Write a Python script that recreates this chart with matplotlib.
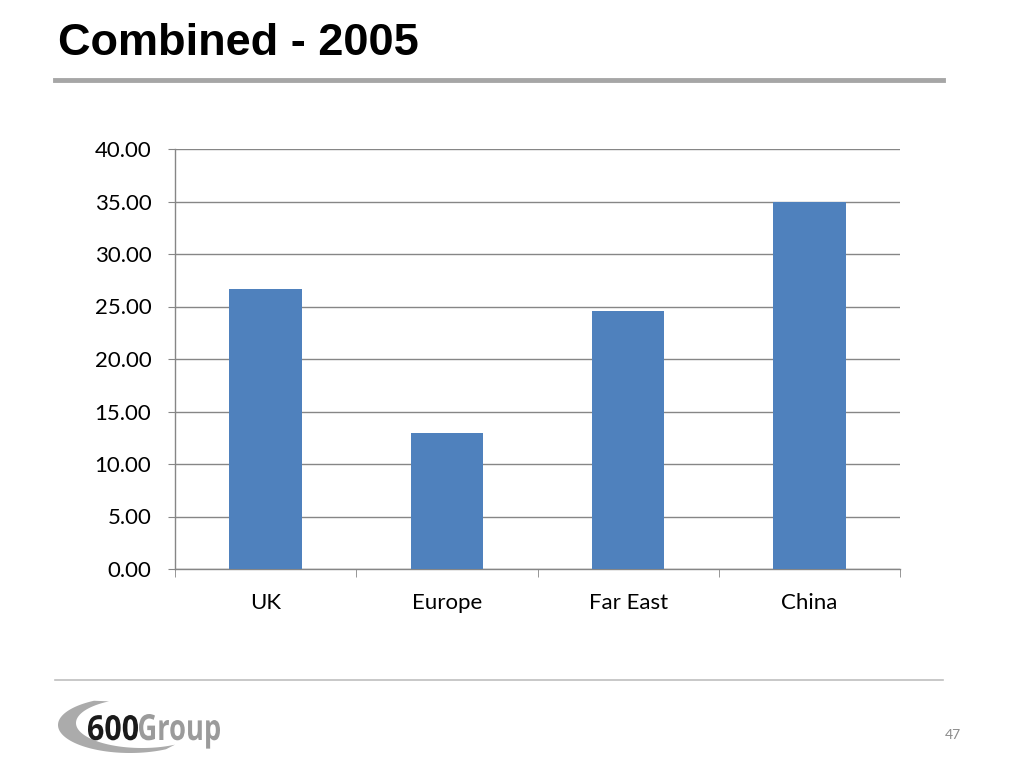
import matplotlib
matplotlib.use("Agg")
import matplotlib.pyplot as plt
from matplotlib.patches import Polygon, PathPatch
from matplotlib.textpath import TextPath
from matplotlib.font_manager import FontProperties
from matplotlib.transforms import Affine2D
import numpy as np

categories = ["UK", "Europe", "Far East", "China"]
values = [26.67, 12.95, 24.57, 35.0]
yticks = [0, 5, 10, 15, 20, 25, 30, 35, 40]

fig = plt.figure(figsize=(10.24, 7.68), dpi=100)
fig.patch.set_facecolor("white")

tickfont = ["Lato", "DejaVu Sans"]
ax = fig.add_axes([175/1024, 1 - 569/768, 725/1024, 420/768])
x = np.arange(len(categories))
ax.bar(x, values, width=0.4, color="#4F81BD", zorder=3)
ax.set_xlim(-0.5, len(categories) - 0.5)
ax.set_ylim(0, 40)
ax.set_yticks(yticks)
ax.set_yticklabels([f"{v:.2f}" for v in yticks], fontsize=16, family=tickfont)
ax.set_xticks(x)
ax.set_xticklabels(categories, fontsize=16, family=tickfont)
ax.tick_params(axis="x", length=0, pad=17)
ax.set_xticks(np.arange(-0.5, len(categories), 1.0), minor=True)
ax.tick_params(axis="x", which="minor", length=6, color="#868686", direction="out")
ax.tick_params(axis="y", length=5, color="#868686", direction="out", pad=12)
ax.grid(axis="y", color="#868686", linewidth=1, zorder=0)
for s in ["top", "right"]:
    ax.spines[s].set_visible(False)
for s in ["left", "bottom"]:
    ax.spines[s].set_color("#868686")
    ax.spines[s].set_linewidth(1)

# title
fig.text(58/1024, 1 - 55/768, "Combined - 2005", fontsize=32.5, fontweight="bold",
         family=["Liberation Sans", "DejaVu Sans"],
         va="baseline", ha="left", color="black")

# separator lines
fig.add_artist(plt.Line2D([55/1024, 943/1024], [1 - 80/768, 1 - 80/768], color="#a6a6a6", linewidth=3.5))
fig.add_artist(plt.Line2D([55/1024, 943/1024], [1 - 680/768, 1 - 680/768], color="#bfbfbf", linewidth=1.2))

# logo (local pixel coords: lx = px - 50, ly = 760 - py)
lax = fig.add_axes([50/1024, 1 - 760/768, 180/1024, 70/768])
lax.set_xlim(0, 180)
lax.set_ylim(0, 70)
lax.axis("off")
t1 = np.radians(np.linspace(120, 300, 150))
outer = np.column_stack([80 + 72*np.cos(t1), 35 + 28*np.sin(t1)])
inner = np.column_stack([92 + 66*np.cos(t1[::-1]), 37 + 25*np.sin(t1[::-1])])
lax.add_patch(Polygon(np.vstack([outer, inner]), closed=True, color="#ababab", lw=0))

def boxed_text(ax_, s, x0, x1, y0, y1, color):
    fp = FontProperties(family=["Open Sans", "DejaVu Sans"], weight="bold")
    tp = TextPath((0, 0), s, size=1, prop=fp)
    ext = tp.get_extents()
    sx = (x1 - x0) / ext.width
    sy = (y1 - y0) / (ext.y1 - 0)
    tr = Affine2D().translate(-ext.x0, 0).scale(sx, sy).translate(x0, y0)
    ax_.add_patch(PathPatch(tr.transform_path(tp), color=color, lw=0))

boxed_text(lax, "600", 38, 88, 20, 45, "#1a1a1a")
boxed_text(lax, "Group", 89, 170, 20, 46, "#9b9b9b")

# page number
fig.text(953/1024, 1 - 735/768, "47", fontsize=10, color="#8c8c8c",
         family=tickfont, va="center", ha="center")

fig.savefig("out.png", dpi=100)
